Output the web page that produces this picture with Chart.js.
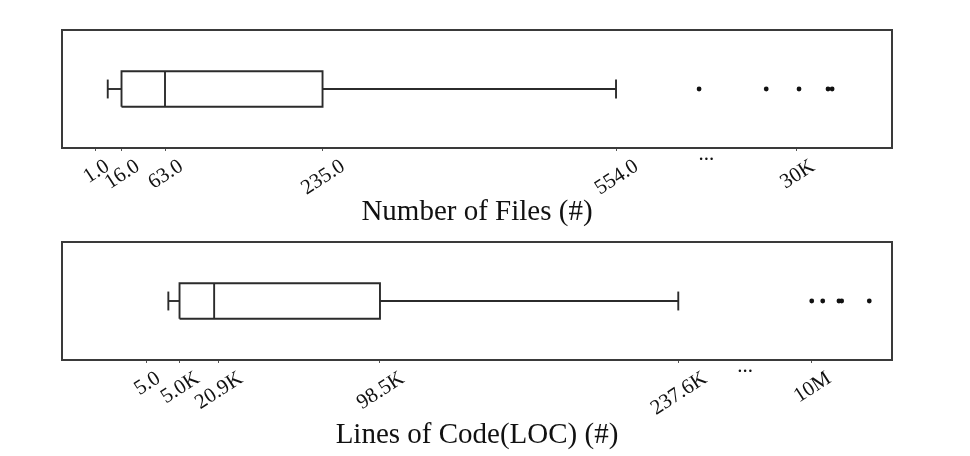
<!DOCTYPE html>
<html>
<head>
<meta charset="utf-8">
<script src="https://cdn.jsdelivr.net/npm/chart.js@4.4.1/dist/chart.umd.min.js"></script>
<style>
body{margin:0;background:#fff;}
.panel{position:absolute;left:0;width:970px;}
</style>
</head>
<body>
<div class="panel" style="top:0;height:234px"><canvas id="files"></canvas></div>
<div class="panel" style="top:234px;height:222px"><canvas id="loc"></canvas></div>
<script>
// Number of files: box stats and outliers
const fileStats = {low: 8, q1: 16, median: 63, q3: 235, high: 554};
const fileOutliers = [14070, 25000, 30650, 39800, 41100];
const fileTickValues = [1, 16, 63, 235, 554, 30000];
const fileTickLabels = ["1.0", "16.0", "63.0", "235.0", "554.0", "30K"];

// Lines of code
const locStats = {low: 3300, q1: 5000, median: 19200, q3: 98500, high: 237600};
const locOutliers = [10000000, 11370000, 13390000, 13730000, 17170000];
const locTickValues = [5, 5000, 20900, 98500, 237600, 10000000];
const locTickLabels = ["5.0", "5.0K", "20.9K", "98.5K", "237.6K", "10M"];

// axis with hand-placed stops (value -> share of the axis width)
class BrokenScale extends Chart.LinearScale {
  static id = "broken";
  static defaults = {};
  buildTicks(){
    this.start = this.min;
    this.end = this.max;
    return this.options.tickValues.map(v => ({value: v}));
  }
  getPixelForValue(value){
    const vs = this.options.stopValues, fs = this.options.stopFracs;
    let i = 0;
    while(i < vs.length - 2 && value > vs[i+1]) i++;
    const t = (value - vs[i]) / (vs[i+1] - vs[i]);
    return this.getPixelForDecimal(fs[i] + t * (fs[i+1] - fs[i]));
  }
  getValueForPixel(pixel){
    const vs = this.options.stopValues, fs = this.options.stopFracs;
    const d = this.getDecimalForPixel(pixel);
    let i = 0;
    while(i < fs.length - 2 && d > fs[i+1]) i++;
    return vs[i] + (d - fs[i]) / (fs[i+1] - fs[i]) * (vs[i+1] - vs[i]);
  }
}
Chart.register(BrokenScale);

const ink = "#2b2b2b";
const serif = '"Liberation Serif", "Times New Roman", serif';
const BOX = 0.3, CAP = 0.16;

function seg(points){
  return {type:"line", data: points, borderColor: ink, borderWidth: 1.9,
    pointRadius: 0, fill: false, tension: 0, parsing: false};
}

function boxSets(s, outliers){
  return [
    seg([{x:s.q1,y:-BOX},{x:s.q3,y:-BOX},{x:s.q3,y:BOX},{x:s.q1,y:BOX},{x:s.q1,y:-BOX}]),
    seg([{x:s.median,y:-BOX},{x:s.median,y:BOX}]),
    seg([{x:s.low,y:0},{x:s.q1,y:0}]),
    seg([{x:s.low,y:-CAP},{x:s.low,y:CAP}]),
    seg([{x:s.q3,y:0},{x:s.high,y:0}]),
    seg([{x:s.high,y:-CAP},{x:s.high,y:CAP}]),
    {type:"scatter", data: outliers.map(v => ({x:v, y:0})), parsing:false,
      pointRadius: 2.4, pointBackgroundColor: "#111", pointBorderWidth: 0, showLine:false}
  ];
}

// frame, rotated centred tick labels and the "..." break mark
const decor = {
  id: "decor",
  afterDraw(chart, args, o){
    const ctx = chart.ctx, a = chart.chartArea, sc = chart.scales.x;
    ctx.save();
    ctx.strokeStyle = "#3a3a3a";
    ctx.lineWidth = 2;
    ctx.strokeRect(a.left, a.top, a.right - a.left, a.bottom - a.top);
    ctx.fillStyle = "#111";
    ctx.font = "21px " + serif;
    const ang = 33 * Math.PI / 180;
    sc.ticks.forEach((t, i) => {
      const m = ctx.measureText(t.label);
      const w = m.width;
      const asc = m.actualBoundingBoxAscent, desc = m.actualBoundingBoxDescent;
      const h = asc + desc;
      const x = sc.getPixelForTick(i);
      const cy = a.bottom + 9.5 + (w * Math.sin(ang) + h * Math.cos(ang)) / 2;
      ctx.save();
      ctx.translate(x, cy);
      ctx.rotate(-ang);
      ctx.textAlign = "center";
      ctx.textBaseline = "alphabetic";
      ctx.fillText(t.label, 0, (asc - desc) / 2);
      ctx.restore();
    });
    const vs = sc.options.tickValues, b = o.breakAfter;
    const bx = (sc.getPixelForValue(vs[b]) + sc.getPixelForValue(vs[b+1])) / 2;
    ctx.textAlign = "center";
    ctx.textBaseline = "alphabetic";
    ctx.fillText("...", bx, a.bottom + 12);
    ctx.restore();
  }
};

function makeChart(id, stats, outliers, tickValues, tickLabels, stops, fracs, title, pad, axisH, titlePad){
  return new Chart(document.getElementById(id), {
    data: {datasets: boxSets(stats, outliers)},
    options: {
      responsive: true,
      maintainAspectRatio: false,
      animation: false,
      layout: {padding: {left: 62, right: 78, top: pad, bottom: 0}},
      plugins: {legend: {display: false}, tooltip: {enabled: false}, decor: {breakAfter: 4}},
      scales: {
        x: {
          type: "broken",
          min: stops[0], max: stops[stops.length - 1],
          stopValues: stops, stopFracs: fracs, tickValues: tickValues,
          afterFit: s => { s.height = axisH; },
          border: {display: false},
          grid: {display: true, drawOnChartArea: false, drawTicks: true, tickLength: 3, color: "#555", lineWidth: 1},
          ticks: {display: false, callback: (v, i) => tickLabels[i]},
          title: {display: true, text: title, color: "#111",
            font: {family: serif, size: 29}, padding: {top: 0, bottom: titlePad}}
        },
        y: {type: "linear", min: -1, max: 1, display: false}
      }
    },
    plugins: [decor]
  });
}

makeChart("files", fileStats, fileOutliers, fileTickValues, fileTickLabels,
  [0, 1, 16, 63, 235, 554, 30000, 60000],
  [0, 0.0406, 0.0717, 0.1241, 0.3139, 0.6675, 0.8855, 1],
  "Number of Files (#)", 30, 86, 4);

makeChart("loc", locStats, locOutliers, locTickValues, locTickLabels,
  [0, 5, 5000, 20900, 98500, 237600, 10000000, 20000000],
  [0, 0.102, 0.1416, 0.1883, 0.3831, 0.7425, 0.9033, 1],
  "Lines of Code(LOC) (#)", 8, 96, 3);
</script>
</body>
</html>
